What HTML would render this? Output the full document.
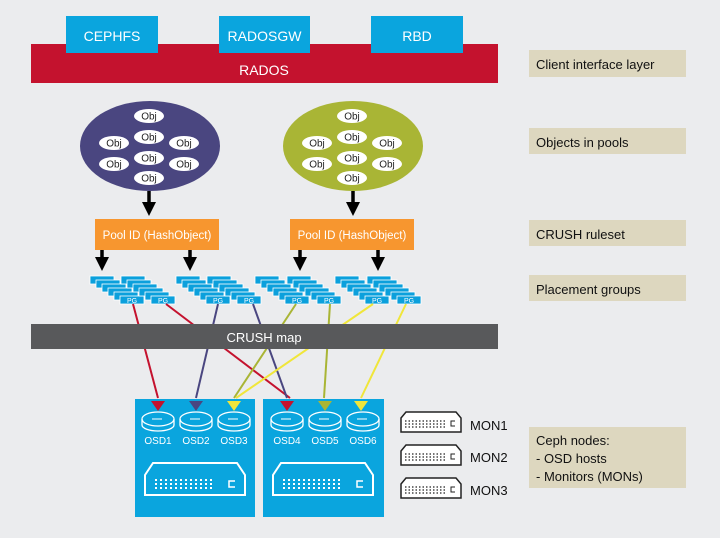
<!DOCTYPE html>
<html><head><meta charset="utf-8"><style>
body{margin:0;background:#ebecee;}
svg{display:block;font-family:"Liberation Sans",sans-serif;}
</style></head><body>
<svg width="720" height="538" viewBox="0 0 720 538" xmlns="http://www.w3.org/2000/svg">
<defs>
<marker id="ab" markerWidth="4" markerHeight="4" refX="2" refY="2" orient="auto" markerUnits="strokeWidth"><path d="M0,0 L4,2 L0,4z" fill="#000"/></marker>
<g id="stk">
 <rect x="0" y="0" width="24" height="8" fill="#0ba0dc" stroke="#fff" stroke-width="0.8"/>
 <rect x="6" y="4" width="24" height="8" fill="#0ba0dc" stroke="#fff" stroke-width="0.8"/>
 <rect x="12" y="8" width="24" height="8" fill="#0ba0dc" stroke="#fff" stroke-width="0.8"/>
 <rect x="18" y="12" width="24" height="8" fill="#0ba0dc" stroke="#fff" stroke-width="0.8"/>
 <rect x="24" y="16" width="24" height="8" fill="#0ba0dc" stroke="#fff" stroke-width="0.8"/>
 <rect x="30" y="20" width="24" height="8" fill="#0ba0dc" stroke="#fff" stroke-width="0.8"/>
 <text x="42" y="27" font-size="7" fill="#fff" text-anchor="middle">PG</text>
</g>
<g id="obj"><ellipse cx="0" cy="0" rx="15" ry="7" fill="#fff"/><text x="0" y="3.5" font-size="10" text-anchor="middle" fill="#222">Obj</text></g>
<g id="disk"><ellipse cx="0" cy="6" rx="16" ry="7" fill="none" stroke="#fff" stroke-width="1.3"/><path d="M-16,6 v6 a16,6 0 0 0 32,0 v-6" fill="none" stroke="#fff" stroke-width="1.3"/><path d="M-6,6 h10" stroke="#fff" stroke-width="1"/></g>
<g id="srv"><path d="M-50,12 L-42,0 H42 L50,12 V32 H-50Z" fill="none" stroke="#fff" stroke-width="2"/><path d="M40,18 h-6 v6 h6" fill="none" stroke="#fff" stroke-width="1.5"/><path d="M-40,17 h60 M-40,21 h60 M-40,25 h60" stroke="#fff" stroke-width="2" stroke-dasharray="2,3"/></g>
<g id="mon"><path d="M-30,6 L-25,0 H25 L30,6 V20 H-30Z" fill="#fff" stroke="#222" stroke-width="1.5"/><path d="M24,9 h-4 v5 h4" fill="none" stroke="#222" stroke-width="1"/><path d="M-26,9 h42 M-26,12 h42 M-26,15 h42" stroke="#222" stroke-width="1.3" stroke-dasharray="1.5,2"/></g>
</defs>
<rect width="720" height="538" fill="#ebecee"/>
<!-- client layer -->
<rect x="31" y="44" width="467" height="39" fill="#c4122e"/>
<text x="264" y="75" font-size="14" fill="#fff" text-anchor="middle">RADOS</text>
<rect x="66" y="16" width="92" height="37" fill="#0aa5de"/><text x="112" y="41" font-size="14" fill="#fff" text-anchor="middle">CEPHFS</text>
<rect x="219" y="16" width="91" height="37" fill="#0aa5de"/><text x="264.5" y="41" font-size="14" fill="#fff" text-anchor="middle">RADOSGW</text>
<rect x="371" y="16" width="92" height="37" fill="#0aa5de"/><text x="417" y="41" font-size="14" fill="#fff" text-anchor="middle">RBD</text>
<!-- labels -->
<g font-size="13" fill="#111">
<rect x="529" y="50" width="157" height="27" fill="#ddd7bf"/><text x="536" y="69">Client interface layer</text>
<rect x="529" y="128" width="157" height="26" fill="#ddd7bf"/><text x="536" y="147">Objects in pools</text>
<rect x="529" y="220" width="157" height="26" fill="#ddd7bf"/><text x="536" y="239">CRUSH ruleset</text>
<rect x="529" y="275" width="157" height="26" fill="#ddd7bf"/><text x="536" y="294">Placement groups</text>
<rect x="529" y="427" width="157" height="61" fill="#ddd7bf"/><text x="536" y="445">Ceph nodes:</text><text x="536" y="463">- OSD hosts</text><text x="536" y="481">- Monitors (MONs)</text>
</g>
<!-- pools -->
<ellipse cx="150" cy="146" rx="70" ry="45" fill="#4a4680"/>
<ellipse cx="353" cy="146" rx="70" ry="45" fill="#a9b535"/>
<use href="#obj" x="149" y="116"/><use href="#obj" x="149" y="137"/><use href="#obj" x="114" y="143"/><use href="#obj" x="184" y="143"/><use href="#obj" x="149" y="158"/><use href="#obj" x="114" y="164"/><use href="#obj" x="184" y="164"/><use href="#obj" x="149" y="178"/>
<use href="#obj" x="352" y="116"/><use href="#obj" x="352" y="137"/><use href="#obj" x="317" y="143"/><use href="#obj" x="387" y="143"/><use href="#obj" x="352" y="158"/><use href="#obj" x="317" y="164"/><use href="#obj" x="387" y="164"/><use href="#obj" x="352" y="178"/>
<g stroke="#000" stroke-width="3.5">
<line x1="149" y1="191" x2="149" y2="209" marker-end="url(#ab)"/>
<line x1="353" y1="191" x2="353" y2="209" marker-end="url(#ab)"/>
<line x1="102" y1="250" x2="102" y2="264" marker-end="url(#ab)"/>
<line x1="190" y1="250" x2="190" y2="264" marker-end="url(#ab)"/>
<line x1="300" y1="250" x2="300" y2="264" marker-end="url(#ab)"/>
<line x1="378" y1="250" x2="378" y2="264" marker-end="url(#ab)"/>
</g>
<rect x="95" y="219" width="124" height="31" fill="#f7962f"/><text x="157" y="239" font-size="11.5" fill="#fff" text-anchor="middle">Pool ID (HashObject)</text>
<rect x="290" y="219" width="124" height="31" fill="#f7962f"/><text x="352" y="239" font-size="11.5" fill="#fff" text-anchor="middle">Pool ID (HashObject)</text>
<!-- PGs -->
<use href="#stk" x="90" y="276"/><use href="#stk" x="121" y="276"/>
<use href="#stk" x="176" y="276"/><use href="#stk" x="207" y="276"/>
<use href="#stk" x="255" y="276"/><use href="#stk" x="287" y="276"/>
<use href="#stk" x="335" y="276"/><use href="#stk" x="367" y="276"/>
<!-- lines -->
<g stroke-width="2" fill="none">
<line x1="133" y1="304" x2="158" y2="398" stroke="#c4122e"/>
<line x1="166" y1="304" x2="290" y2="398" stroke="#c4122e"/>
<line x1="218" y1="304" x2="196" y2="398" stroke="#4a4680"/>
<line x1="253" y1="304" x2="287" y2="398" stroke="#4a4680"/>
<line x1="296" y1="304" x2="234" y2="398" stroke="#a9b535"/>
<line x1="330" y1="304" x2="324" y2="398" stroke="#a9b535"/>
<line x1="373" y1="304" x2="236" y2="398" stroke="#f0e63a"/>
<line x1="406" y1="304" x2="361" y2="398" stroke="#f0e63a"/>
</g>
<rect x="31" y="324" width="467" height="25" fill="#58595b"/>
<text x="264" y="342" font-size="13" fill="#fff" text-anchor="middle">CRUSH map</text>
<!-- hosts -->
<rect x="135" y="399" width="120" height="118" fill="#0aa5de"/>
<rect x="263" y="399" width="121" height="118" fill="#0aa5de"/>
<g fill="#fff" font-size="10" text-anchor="middle">
<use href="#disk" x="158" y="413"/><text x="158" y="444">OSD1</text>
<use href="#disk" x="196" y="413"/><text x="196" y="444">OSD2</text>
<use href="#disk" x="234" y="413"/><text x="234" y="444">OSD3</text>
<use href="#disk" x="287" y="413"/><text x="287" y="444">OSD4</text>
<use href="#disk" x="325" y="413"/><text x="325" y="444">OSD5</text>
<use href="#disk" x="363" y="413"/><text x="363" y="444">OSD6</text>
</g>
<use href="#srv" x="195" y="463"/><use href="#srv" x="323" y="463"/>
<!-- arrowheads at OSDs -->
<path d="M151,401 h14 l-7,10z" fill="#c4122e"/>
<path d="M189,401 h14 l-7,10z" fill="#4a4680"/>
<path d="M227,401 h14 l-7,10z" fill="#f0e63a"/>
<path d="M280,401 h14 l-7,10z" fill="#c4122e"/>
<path d="M318,401 h14 l-7,10z" fill="#a9b535"/>
<path d="M354,401 h14 l-7,10z" fill="#f0e63a"/>
<!-- MONs -->
<use href="#mon" x="431" y="412"/><use href="#mon" x="431" y="445"/><use href="#mon" x="431" y="478"/>
<g font-size="13" fill="#111"><text x="470" y="430">MON1</text><text x="470" y="462">MON2</text><text x="470" y="495">MON3</text></g>
</svg>
</body></html>
